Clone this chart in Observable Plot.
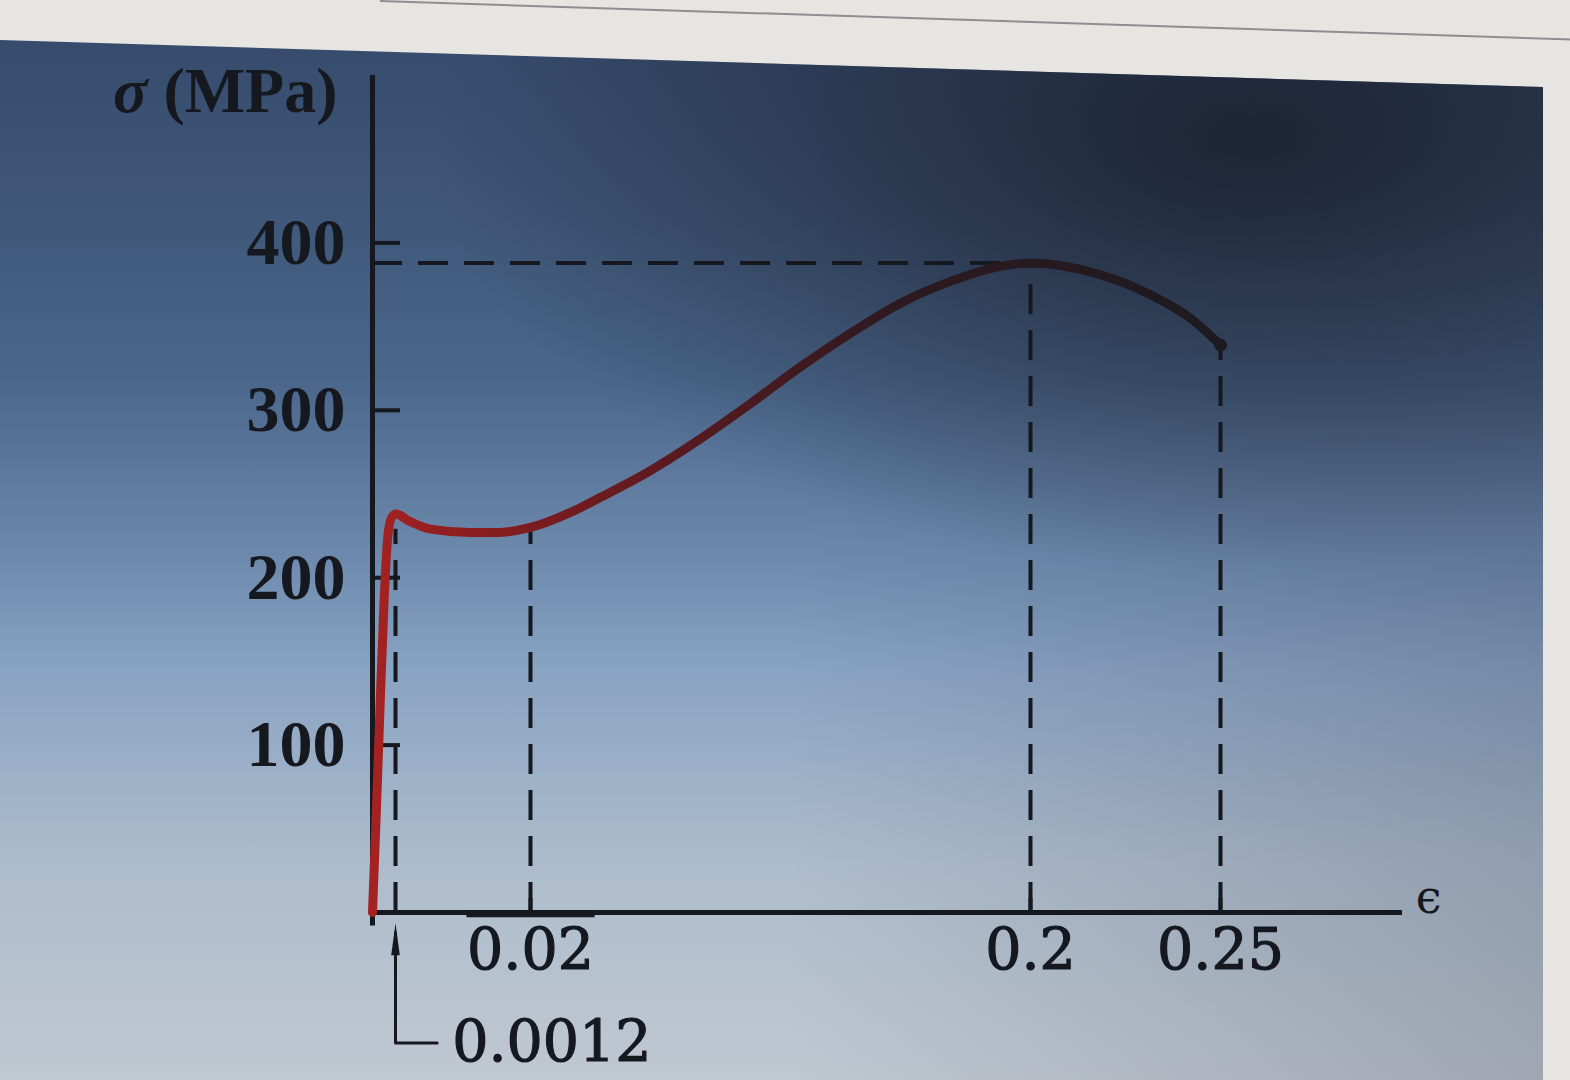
<!DOCTYPE html>
<html>
<head>
<meta charset="utf-8">
<script src="https://cdn.jsdelivr.net/npm/d3@7"></script>
<script src="https://cdn.jsdelivr.net/npm/@observablehq/plot@0.6"></script>
<style>
  html, body { margin: 0; padding: 0; width: 1570px; height: 1080px; overflow: hidden; background: #e7e5e1; }
  #screen {
    position: absolute; left: 0; top: 0; width: 1570px; height: 1080px;
    clip-path: polygon(0 40px, 1543px 87px, 1543px 1080px, 0 1080px);
    background:
      radial-gradient(ellipse 820px 430px at 1250px 140px, rgba(22,26,38,0.8), rgba(22,26,38,0) 100%),
      linear-gradient(to right, rgba(40,45,65,0) 50%, rgba(40,45,65,0.22) 100%),
      linear-gradient(to bottom, #35496a 0%, #3f5779 20%, #4a678b 35%, #6e8bae 52%, #89a3c2 62%, #adbccc 80%, #c0c8d1 100%);
  }
  #edge { position: absolute; left: 380px; top: 0; width: 1200px; height: 2px; background: #8e8e8e; transform-origin: 0 0; transform: rotate(1.85deg); }
  #chart { position: absolute; left: 0; top: 0; }
</style>
</head>
<body>
<div id="screen"></div>
<div id="edge"></div>
<div id="chart"></div>
<script>
// ---- data ----
const strain = [0, 0.0002, 0.0004, 0.0006, 0.0008, 0.0010, 0.0013, 0.003, 0.0061, 0.0116, 0.0154, 0.02,
                0.0344, 0.0452, 0.0632, 0.0812, 0.0992, 0.1172, 0.1352, 0.1532, 0.1712, 0.1892, 0.2,
                0.2184, 0.2316, 0.2421, 0.25];
const stress = [0, 60, 125, 185, 225, 236, 238, 234, 229, 227, 227, 230,
                239, 248, 264, 283, 304, 326, 346, 364, 377, 386, 388,
                381, 369, 355, 339];
const markStrain = [0.0012, 0.02, 0.2, 0.25];
const markStress = [229, 230, 388, 339];
const ultimateStress = 388;
const yTicks = [100, 200, 300, 400];
const xTicks = [0.02, 0.2, 0.25];
const xTickLabels = ["0.02", "0.2", "0.25"];
const yieldStrainLabel = "0.0012";
const yLabel = "σ (MPa)";
const xLabel = "ϵ";

// schematic (broken) strain axis: piecewise linear scale
const xBreaks = [0, 0.0012, 0.02, 0.2, 0.25, 0.27];
const xPixels = [372, 395, 530, 1030, 1220, 1402];

const curve = strain.map((e, i) => ({e, s: stress[i]}));
const drops = markStrain.map((e, i) => ({e, s: markStress[i]}));
const leaderY = -78;
const leader = [{e: 0.0012, s: -12}, {e: 0.0012, s: leaderY}, {e: 0.0070, s: leaderY}];

const ink = "#15181f";
const slimTriangle = {
  draw(context, size) {
    const s = Math.sqrt(size);
    context.moveTo(0, -s);
    context.lineTo(s * 0.27, s);
    context.lineTo(-s * 0.27, s);
    context.closePath();
  }
};

const plot = Plot.plot({
  width: 1570, height: 1080,
  marginTop: 75, marginBottom: 168, marginLeft: 372, marginRight: 168,
  style: {background: "transparent", overflow: "visible"},
  x: {type: "linear", domain: xBreaks, range: xPixels},
  y: {domain: [0, 500]},
  marks: [
    Plot.ruleY([ultimateStress], {x1: 0, x2: 0.2, stroke: ink, strokeWidth: 4, strokeDasharray: "30,16"}),
    Plot.ruleX(drops, {x: "e", y1: 0, y2: "s", stroke: ink, strokeWidth: 4, strokeDasharray: "30,16"}),
    Plot.ruleY([0], {x1: 0, x2: xBreaks[xBreaks.length - 1], stroke: ink, strokeWidth: 5}),
    Plot.ruleX([0], {y1: -8, y2: 500, stroke: ink, strokeWidth: 5}),
    Plot.axisY({ticks: yTicks, tickSize: -28, tickPadding: 55, strokeWidth: 4, color: ink, label: null,
                fontSize: 66, fontFamily: "Liberation Serif", fontWeight: "bold"}),
    Plot.axisX({ticks: xTicks, tickFormat: (d) => xTickLabels[xTicks.indexOf(d)], tickSize: -14, tickPadding: 30,
                strokeWidth: 4, color: ink, label: null, fontSize: 57, fontFamily: "DejaVu Serif"}),
    Plot.line(leader, {x: "e", y: "s", stroke: ink, strokeWidth: 3}),
    Plot.dot([leader[0]], {x: "e", y: (d) => d.s - 4, symbol: slimTriangle, r: 9, fill: ink, stroke: null}),
    Plot.text([yieldStrainLabel], {x: leader[2].e, y: leaderY, dx: 15, text: (d) => d, textAnchor: "start",
                lineAnchor: "middle", fontSize: 57, fontFamily: "DejaVu Serif", fill: ink,
                stroke: ink, strokeWidth: 1.2}),
    Plot.text([xLabel], {x: xBreaks[xBreaks.length - 1], y: 0, dx: 26, dy: -14, text: (d) => d,
                fontSize: 46, fontFamily: "DejaVu Serif", fill: ink}),
    Plot.text([yLabel], {frameAnchor: "top-left", dx: -35, dy: 16, text: (d) => d, textAnchor: "end",
                lineAnchor: "middle", fontSize: 64, fontWeight: "bold", fontFamily: "Liberation Serif", fill: ink}),
    Plot.line(curve, {x: "e", y: "s", stroke: "url(#curveGrad)", strokeWidth: 9, curve: "monotone-x",
                strokeLinecap: "round", strokeLinejoin: "round"}),
    Plot.dot([curve[curve.length - 1]], {x: "e", y: "s", r: 6.5, fill: "#1b1a20", stroke: null})
  ]
});

// gradient for the curve (red at the origin, nearly black further right)
const NS = "http://www.w3.org/2000/svg";
const xs = plot.scale("x");
const defs = document.createElementNS(NS, "defs");
const grad = document.createElementNS(NS, "linearGradient");
grad.setAttribute("id", "curveGrad");
grad.setAttribute("gradientUnits", "userSpaceOnUse");
grad.setAttribute("x1", xs.apply(0));
grad.setAttribute("x2", xs.apply(0.25));
grad.setAttribute("y1", 0);
grad.setAttribute("y2", 0);
[[0, "#a52222"], [0.12, "#8a1d1f"], [0.35, "#5a1a20"], [0.6, "#2e1a20"], [1, "#1c1a20"]].forEach(([o, c]) => {
  const st = document.createElementNS(NS, "stop");
  st.setAttribute("offset", o);
  st.setAttribute("stop-color", c);
  grad.appendChild(st);
});
defs.appendChild(grad);
plot.insertBefore(defs, plot.firstChild);

// thicker x tick labels, overline on the 0.02 label, italic sigma
plot.querySelectorAll("[aria-label='x-axis tick label'] text").forEach((t) => {
  t.setAttribute("stroke", ink);
  t.setAttribute("stroke-width", 1.2);
});
plot.querySelectorAll("text").forEach((t) => {
  if (t.textContent === "0.02") t.style.textDecoration = "overline";
  if (t.textContent === yLabel) {
    const tspans = t.querySelectorAll("tspan");
    const target = tspans.length ? tspans[0] : t;
    target.textContent = "";
    const a = document.createElementNS(NS, "tspan");
    a.setAttribute("font-style", "italic");
    a.textContent = "σ";
    const b = document.createElementNS(NS, "tspan");
    b.textContent = " (MPa)";
    target.appendChild(a);
    target.appendChild(b);
  }
});

document.getElementById("chart").appendChild(plot);
</script>
</body>
</html>
